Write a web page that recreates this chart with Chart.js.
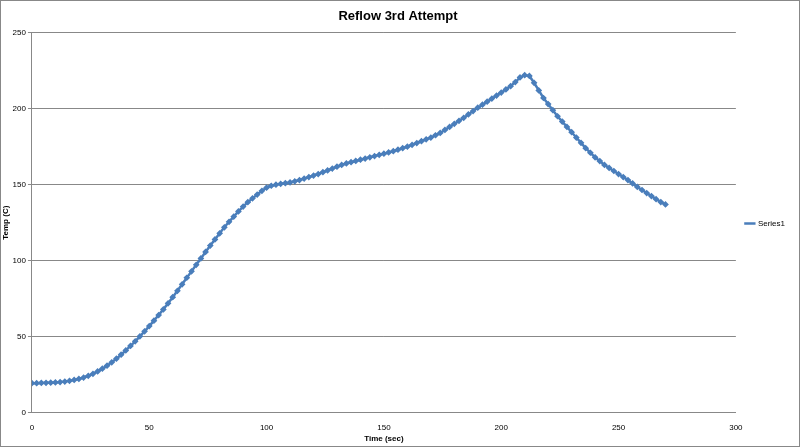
<!DOCTYPE html><html><head><script src="https://cdn.jsdelivr.net/npm/chart.js"></script>
<style>body{margin:0;background:#fff}#w{width:800px;height:447px;position:relative;box-sizing:border-box;border:1px solid #888}</style></head><body><div id="w"><canvas id="c"></canvas></div>
<script>
const times=[];for(let t=0;t<=270;t+=2)times.push(t);
const temps=[19.5,19.5,19.6,19.7,19.8,20,20.2,20.5,21,21.6,22.3,23.2,24.3,25.6,27.2,29,31,33.2,35.6,38.2,41,44,47,50.3,53.6,57,60.6,64.3,68,72,76,80.2,84.5,88.8,93,97.3,101.5,105.8,110,114,118,122,125.6,129,132.4,135.6,138.5,141,143.5,146,148,149.3,150,150.6,151,151.5,152.2,153,154,155,156,157,158.2,159.4,160.6,161.8,163,164,164.8,165.6,166.4,167.2,168,168.8,169.6,170.4,171.2,172,173,174,175,176.2,177.4,178.6,179.8,181,182.5,184,186,188,190,192,194,196.2,198.4,200.6,202.6,204.6,206.6,208.6,210.6,212.6,214.8,217.5,220.5,222,221.5,217,212,207,203,199,195,191.5,188,184.5,181,177.5,174,171,168,165.5,163,161,159,157,155,153,150.8,148.5,146.5,144.5,142.5,140.5,138.6,137];
const pts=times.map((t,i)=>({x:t,y:temps[i]}));
const col='#4a7ebb';
new Chart(document.getElementById('c'),{type:'line',data:{datasets:[{label:'Series1',data:pts,borderColor:col,backgroundColor:col,borderWidth:2.5,pointRadius:1.6,pointStyle:'rectRot',tension:0}]},
options:{responsive:true,maintainAspectRatio:false,animation:false,
layout:{padding:{left:0,right:4,top:2,bottom:2}},
plugins:{title:{display:true,text:'Reflow 3rd Attempt',font:{family:'Liberation Sans',size:13,weight:'bold'},color:'#000',padding:{top:6,bottom:8}},
legend:{position:'right',labels:{usePointStyle:true,pointStyle:'line',boxWidth:30,font:{family:'Liberation Sans',size:8},color:'#000'}}},
scales:{x:{type:'linear',min:0,max:300,ticks:{stepSize:50,padding:2,font:{family:'Liberation Sans',size:8},color:'#000'},grid:{display:false},border:{color:'#888'},title:{display:true,text:'Time (sec)',font:{family:'Liberation Sans',size:8,weight:'bold'},color:'#000',padding:0}},
y:{min:0,max:250,ticks:{stepSize:50,padding:2,font:{family:'Liberation Sans',size:8},color:'#000'},grid:{color:'#888',drawTicks:true,tickLength:4},border:{color:'#888'},title:{display:true,text:'Temp (C)',font:{family:'Liberation Sans',size:8,weight:'bold'},color:'#000',padding:0}}}}});
</script></body></html>
